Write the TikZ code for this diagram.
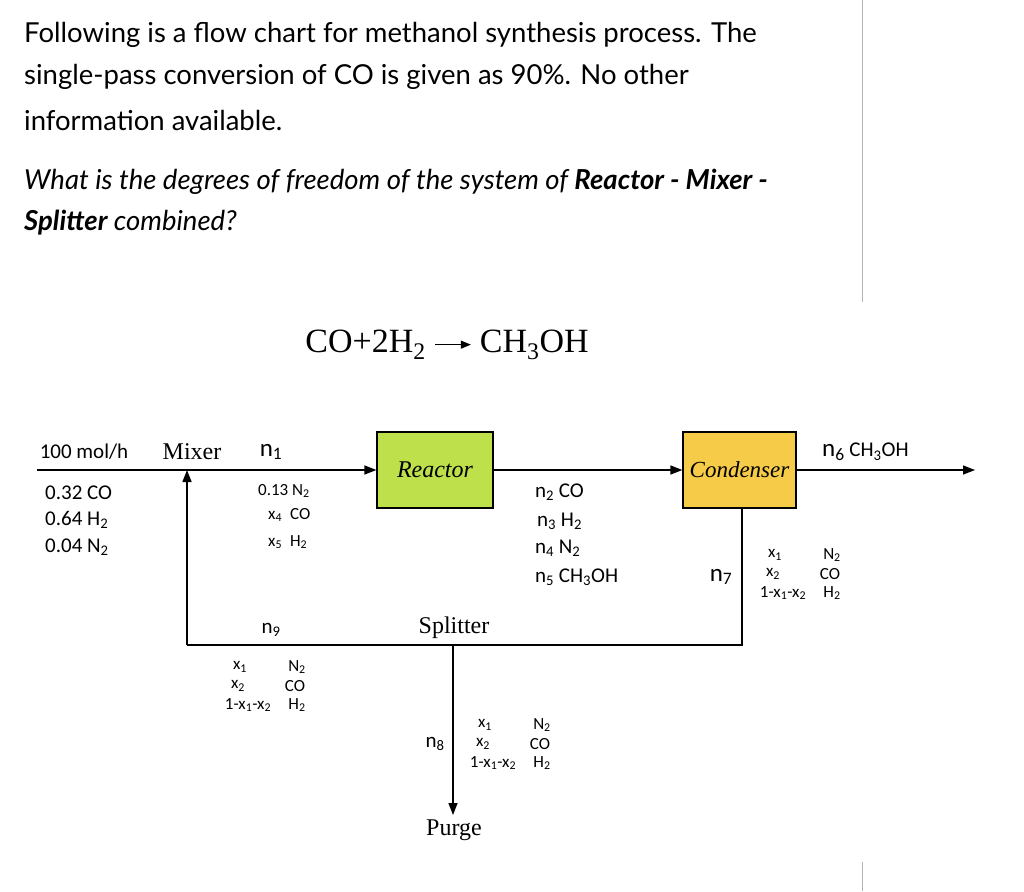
\documentclass[tikz,border=0pt]{standalone}
\usepackage{fontspec}
\setmainfont{Liberation Serif}
\newfontfamily\lato{Lato}
\newfontfamily\carl{Carlito}
\usetikzlibrary{arrows.meta}
\definecolor{rgreen}{HTML}{BEE04A}
\definecolor{cyellow}{HTML}{F6CB47}
\begin{document}
\begin{tikzpicture}[x=1pt,y=-1pt,
  hdr/.style={font=\lato\fontsize{27.5}{30}\selectfont,anchor=west,inner sep=0},
  lab/.style={font=\carl\fontsize{21}{23}\selectfont,inner sep=0},
  sml/.style={font=\carl\fontsize{17}{19}\selectfont,inner sep=0},
  ser/.style={font=\fontsize{24}{26}\selectfont,inner sep=0},
  box/.style={draw,line width=1.2pt,minimum width=116pt,minimum height=76pt,inner sep=0},
  flow/.style={line width=1.4pt},
  arr/.style={flow,-{Triangle[length=12pt,width=9pt]}}]
\useasboundingbox (0,0) rectangle (1024,891);
\fill[white] (0,0) rectangle (1024,891);
\draw[gray!60,line width=0.8pt] (862,0) -- (862,302);
\draw[gray!60,line width=0.8pt] (862,862) -- (862,891);
\node[hdr] (h1) at (24,35) {Following is a flow chart for methanol synthesis process. The};
\node[hdr] (h2) at (24,77) {single-pass conversion of CO is given as 90\%. No other};
\node[hdr] (h3) at (24,120) {information available.};
\node[hdr] (h4) at (24,182) {\itshape What is the degrees of freedom of the system of \textbf{Reactor - Mixer -}};
\node[hdr] (h5) at (24,223) {\itshape\textbf{Splitter} combined?};
\node[font=\fontsize{34}{36}\selectfont,inner sep=0] (rx) at (447,345) {CO+2H\textsubscript{2} \raisebox{0.25ex}{\tikz\draw[line width=1.2pt,-{Triangle[length=10pt,width=8pt]}](0,0)--(36pt,0);} CH\textsubscript{3}OH};
\node[box,fill=rgreen] (reactor) at (435,470) {\itshape\fontsize{24}{26}\selectfont Reactor};
\node[box,fill=cyellow,minimum width=113pt] (cond) at (739.5,470) {\itshape\fontsize{23}{25}\selectfont Condenser};
\coordinate (feed) at (37,470);
\coordinate (mix) at (187,470);
\coordinate (rec) at (187,645);
\coordinate (split) at (453,645);
\coordinate (cbot) at (742,645);
\coordinate (purge) at (453,815);
\coordinate (prod) at (975,470);
\draw[flow] (feed) -- (mix);
\draw[arr] (mix) -- (reactor.west);
\draw[arr] (rec) -- (mix);
\draw[arr] (reactor.east) -- (cond.west);
\draw[arr] (cond.east) -- (prod);
\draw[flow] (cond.south -| cbot) -- (cbot) -- (rec);
\draw[arr] (split) -- (purge);
\node[lab] (l100) at (84,452) {100 mol/h};
\node[ser] (lmix) at (192,452) {Mixer};
\node[font=\carl\fontsize{25}{27}\selectfont,inner sep=0] (ln1) at (271,452) {n\textsubscript{1}};
\node[lab,anchor=west] (f1) at (45,493) {0.32 CO};
\node[lab,anchor=west] (f2) at (45,520) {0.64 H\textsubscript{2}};
\node[lab,anchor=west] (f3) at (45,547) {0.04 N\textsubscript{2}};
\node[sml,anchor=west] (a1) at (258,491) {0.13 N\textsubscript{2}};
\node[sml,anchor=west] (a2) at (268,515) {x\textsubscript{4}\hspace{8pt}CO};
\node[sml,anchor=west] (a3) at (268,542) {x\textsubscript{5}\hspace{8pt}H\textsubscript{2}};
\node[lab,anchor=west] (b1) at (535,492) {n\textsubscript{2} CO};
\node[lab,anchor=west] (b2) at (537,521) {n\textsubscript{3} H\textsubscript{2}};
\node[lab,anchor=west] (b3) at (535,548) {n\textsubscript{4} N\textsubscript{2}};
\node[lab,anchor=west] (b4) at (535,577) {n\textsubscript{5} CH\textsubscript{3}OH};
\node[lab,anchor=west] (ln6) at (822,452) {\fontsize{25}{27}\selectfont n\textsubscript{6}\fontsize{21}{23}\selectfont{} CH\textsubscript{3}OH};
\node[font=\carl\fontsize{25}{27}\selectfont,inner sep=0] (ln7) at (721,577) {n\textsubscript{7}};
\node[lab] (ln9) at (271,630) {n\textsubscript{9}};
\node[ser] (lsp) at (454,628) {Splitter};
\node[lab] (ln8) at (435,744) {n\textsubscript{8}};
\node[ser] (lpu) at (454,830) {Purge};
\foreach \n/\x/\y in {c1/775/555,c2/240/667,c3/485/725}{
  \node[sml] (\n x1) at (\x,\y) {x\textsubscript{1}};
  \node[sml] (\n x2) at (\x-2,\y+19) {x\textsubscript{2}};
  \node[sml] (\n x3) at (\x+8,\y+38) {1-x\textsubscript{1}-x\textsubscript{2}};
  \node[sml] (\n y1) at (\x+57,\y) {N\textsubscript{2}};
  \node[sml] (\n y2) at (\x+55,\y+19) {CO};
  \node[sml] (\n y3) at (\x+57,\y+38) {H\textsubscript{2}};
}
\end{tikzpicture}
\end{document}
